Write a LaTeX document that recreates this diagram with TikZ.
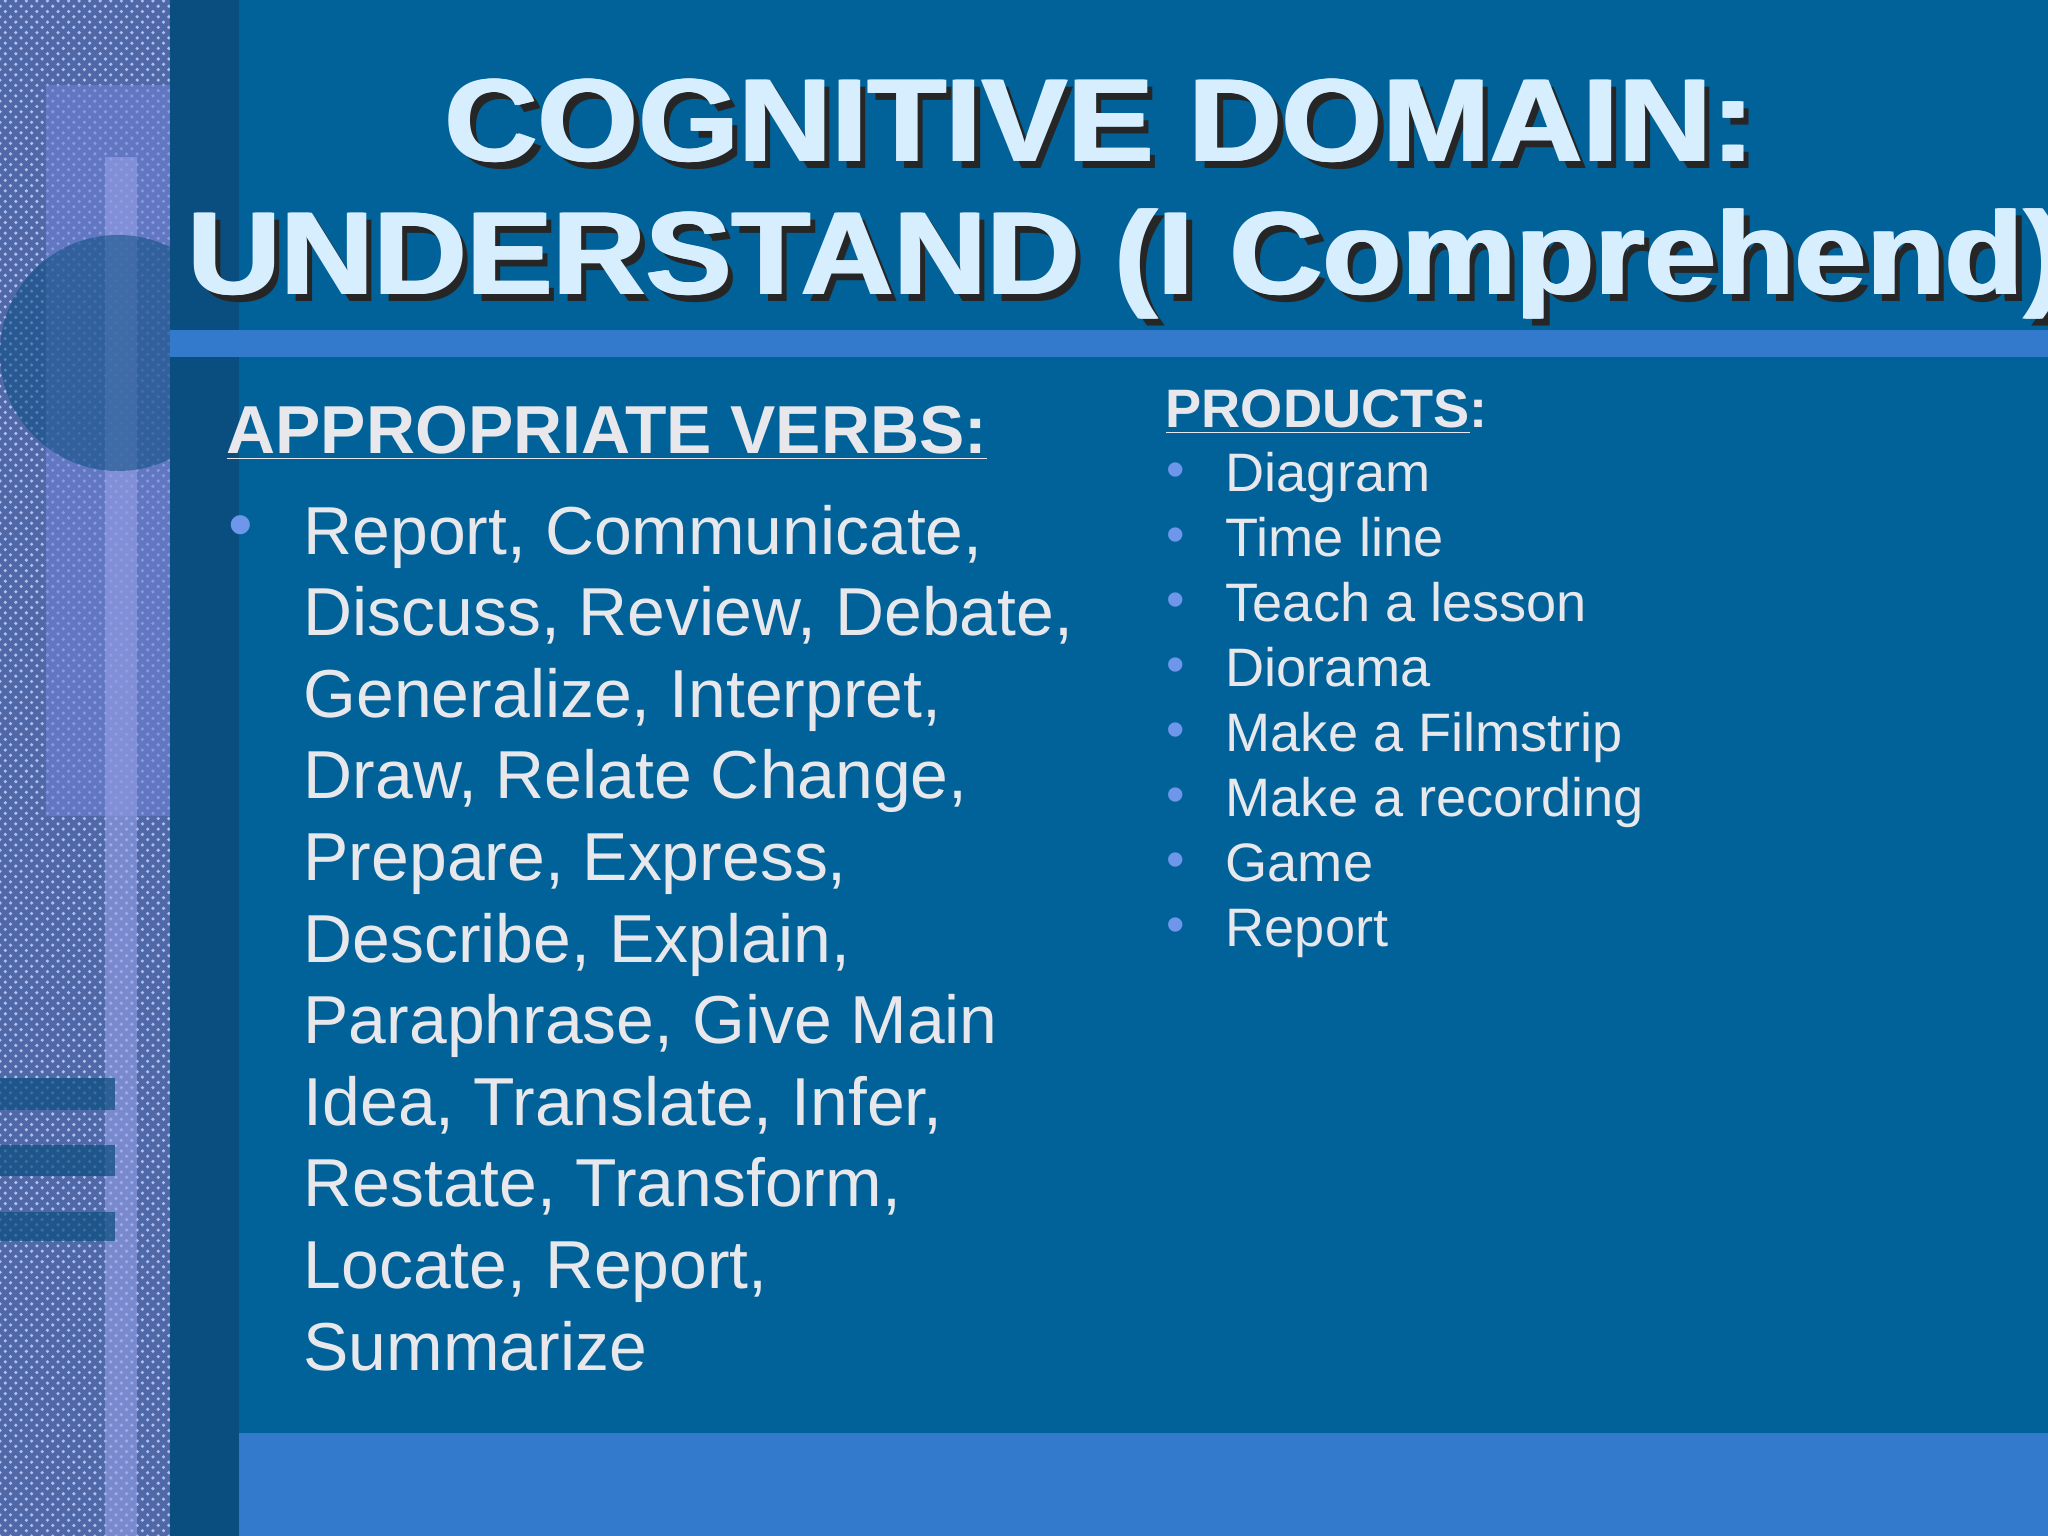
\documentclass[tikz,border=0pt]{standalone}
\usepackage{fontspec}
\setmainfont{Liberation Sans}
\usetikzlibrary{patterns}
\definecolor{bg}{RGB}{0,98,152}
\definecolor{band}{RGB}{52,122,204}
\definecolor{darkband}{RGB}{10,78,128}
\definecolor{strip}{RGB}{78,104,168}
\definecolor{stripl}{RGB}{110,130,210}
\definecolor{stripll}{RGB}{150,160,230}
\definecolor{titlec}{RGB}{215,238,255}
\definecolor{txt}{RGB}{232,232,236}
\definecolor{bul}{RGB}{110,150,235}
\tikzset{
 verb/.style={anchor=base west,inner sep=0pt,text=txt,font=\fontsize{19.3}{24}\selectfont},
 prod/.style={anchor=base west,inner sep=0pt,text=txt,font=\fontsize{15.4}{18}\selectfont},
 bulv/.style={anchor=base west,inner sep=0pt,text=bul,font=\fontsize{20}{24}\selectfont},
 bulp/.style={anchor=base west,inner sep=0pt,text=bul,font=\fontsize{15}{18}\selectfont},
 ttl/.style={inner sep=0pt,xscale=1.09,font=\fontsize{33.6}{40}\selectfont\bfseries}
}
\begin{document}
\begin{tikzpicture}[x=0.01cm,y=-0.01cm]
\useasboundingbox (0,0) rectangle (2048,1536);
\fill[bg] (0,0) rectangle (2048,1536);
% left textured strip
\fill[strip] (0,0) rectangle (170,1536);
\fill[pattern=crosshatch dots,pattern color=stripll!70] (0,0) rectangle (170,1536);
\fill[stripl,opacity=0.6] (46,85) rectangle (170,816);
\fill[stripll,opacity=0.6] (105,157) rectangle (137,1536);
\fill[darkband,opacity=0.55] (118,353) circle (118);
\fill[darkband,opacity=0.7] (0,1078) rectangle (115,1110);
\fill[darkband,opacity=0.7] (0,1145) rectangle (115,1176);
\fill[darkband,opacity=0.7] (0,1212) rectangle (115,1241);
\fill[darkband] (170,0) rectangle (239,1536);
% bands
\fill[band] (170,330) rectangle (2048,357);
\fill[band] (239,1433) rectangle (2048,1536);
% title (shadow, then thickened face)
\node[ttl,text=black!85,anchor=base] at (1107,168) {COGNITIVE DOMAIN:};
\foreach \d in {-1.5,0,1.5}
  \node[ttl,text=titlec,anchor=base] at ({1100+\d},161) {COGNITIVE DOMAIN:};
\node[ttl,text=black!85,anchor=base west] at (194,301) {UNDERSTAND (I Comprehend)};
\foreach \d in {-1.5,0,1.5}
  \node[ttl,text=titlec,anchor=base west] at ({187+\d},294) {UNDERSTAND (I Comprehend)};
% verbs
\node[verb,font=\fontsize{19.3}{24}\selectfont\bfseries] (vh) at (226,453) {\underline{APPROPRIATE VERBS:}};
\node[bulv] (vb) at (228,548) {•};
\foreach \t [count=\i from 0] in {{Report, Communicate,},{Discuss, Review, Debate,},{Generalize, Interpret,},{Draw, Relate Change,},{Prepare, Express,},{Describe, Explain,},{Paraphrase, Give Main},{Idea, Translate, Infer,},{Restate, Transform,},{Locate, Report,},{Summarize}}
  \node[verb] (v\i) at (303,{554+81.6*\i}) {\t};
% products
\node[prod,font=\fontsize{15.4}{18}\selectfont\bfseries] (ph) at (1165,427) {\underline{PRODUCTS}:};
\foreach \t [count=\i from 0] in {Diagram,Time line,Teach a lesson,Diorama,Make a Filmstrip,Make a recording,Game,Report}{
  \node[bulp] (pb\i) at (1166,{487+65*\i}) {•};
  \node[prod] (p\i) at (1225,{491+65*\i}) {\t};
}
\end{tikzpicture}
\end{document}
